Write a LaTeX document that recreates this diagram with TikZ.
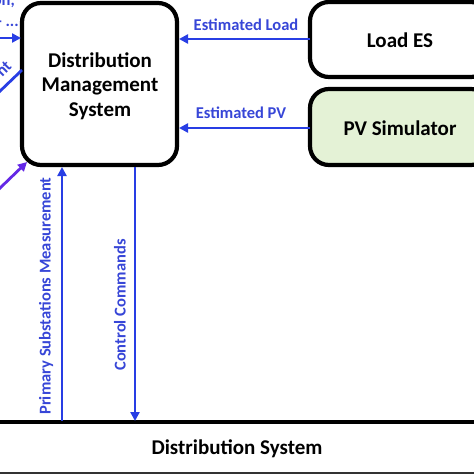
\documentclass[tikz,border=0pt]{standalone}
\usepackage{fontspec}
\setmainfont{Carlito}
\usetikzlibrary{arrows.meta}
\definecolor{arrblue}{RGB}{40,62,228}
\definecolor{lblblue}{RGB}{55,70,215}
\definecolor{arrpurple}{RGB}{100,40,230}
\definecolor{pvgreen}{RGB}{228,242,214}
\tikzset{
  blockbox/.style={draw=black, line width=4.2pt, rounded corners=19pt},
  maintext/.style={font=\fontsize{21}{24.5}\selectfont\bfseries, align=center, text=black},
  lbl/.style={font=\fontsize{16.5}{19}\selectfont\bfseries, text=lblblue, inner sep=0pt},
  flow/.style={draw=arrblue, line width=2.8pt, -{Triangle[length=9pt,width=9pt]}},
  flowplain/.style={draw=arrblue, line width=2.8pt},
}
\begin{document}
\begin{tikzpicture}[x=1pt,y=-1pt]
\useasboundingbox (0,0) rectangle (474,474);
\clip (0,0) rectangle (474,474);
% boxes
\draw[blockbox] (22,3) rectangle (177,165);
\node[maintext] (dms) at (100,86) {Distribution\\Management\\System};
\draw[blockbox] (310,2) rectangle (490,77);
\node[maintext] (les) at (400,40) {Load ES};
\draw[blockbox, fill=pvgreen] (310,89) rectangle (490,165);
\node[maintext] (pv) at (400,128) {PV Simulator};
% distribution system
\draw[draw=black, line width=4pt] (-10,422) -- (484,422);
\draw[draw=black!80, line width=3pt] (-10,473) -- (484,473);
\node[maintext] (ds) at (237,449) {Distribution System};
% coordinates
\coordinate (lesW) at (310,39);
\coordinate (dmsE1) at (179,39);
\coordinate (pvW) at (310,128);
\coordinate (dmsE2) at (179,128);
\coordinate (psB) at (62,421);
\coordinate (psT) at (62,167);
\coordinate (ccT) at (135,167);
\coordinate (ccB) at (135,421);
\coordinate (l1a) at (-2,38);
\coordinate (l1b) at (21,38);
\coordinate (l2a) at (-3,94);
\coordinate (l2b) at (22,70);
\coordinate (l3a) at (-2,190);
\coordinate (l3b) at (27,162);
% arrows
\draw[flow] (lesW) -- (dmsE1);
\node[lbl] (lblEL) at (246,25) {Estimated Load};
\draw[flow] (pvW) -- (dmsE2);
\node[lbl] (lblEP) at (241,113) {Estimated PV};
\draw[flow] (psB) -- (psT);
\node[lbl, rotate=90] (lblPS) at (46,296) {Primary Substations Measurement};
\draw[flow] (ccT) -- (ccB);
\node[lbl, rotate=90] (lblCC) at (120,305) {Control Commands};
% left partial items
\node[lbl, anchor=east] (t1) at (15,3) {on,};
\node[lbl, anchor=east] (t2) at (19,24) {- ...};
\draw[flow] (l1a) -- (l1b);
\draw[flowplain] (l2a) -- (l2b);
\node[lbl, rotate=45, anchor=east] (t3) at (9,64) {nt};
\draw[flow, draw=arrpurple] (l3a) -- (l3b);
\end{tikzpicture}
\end{document}
